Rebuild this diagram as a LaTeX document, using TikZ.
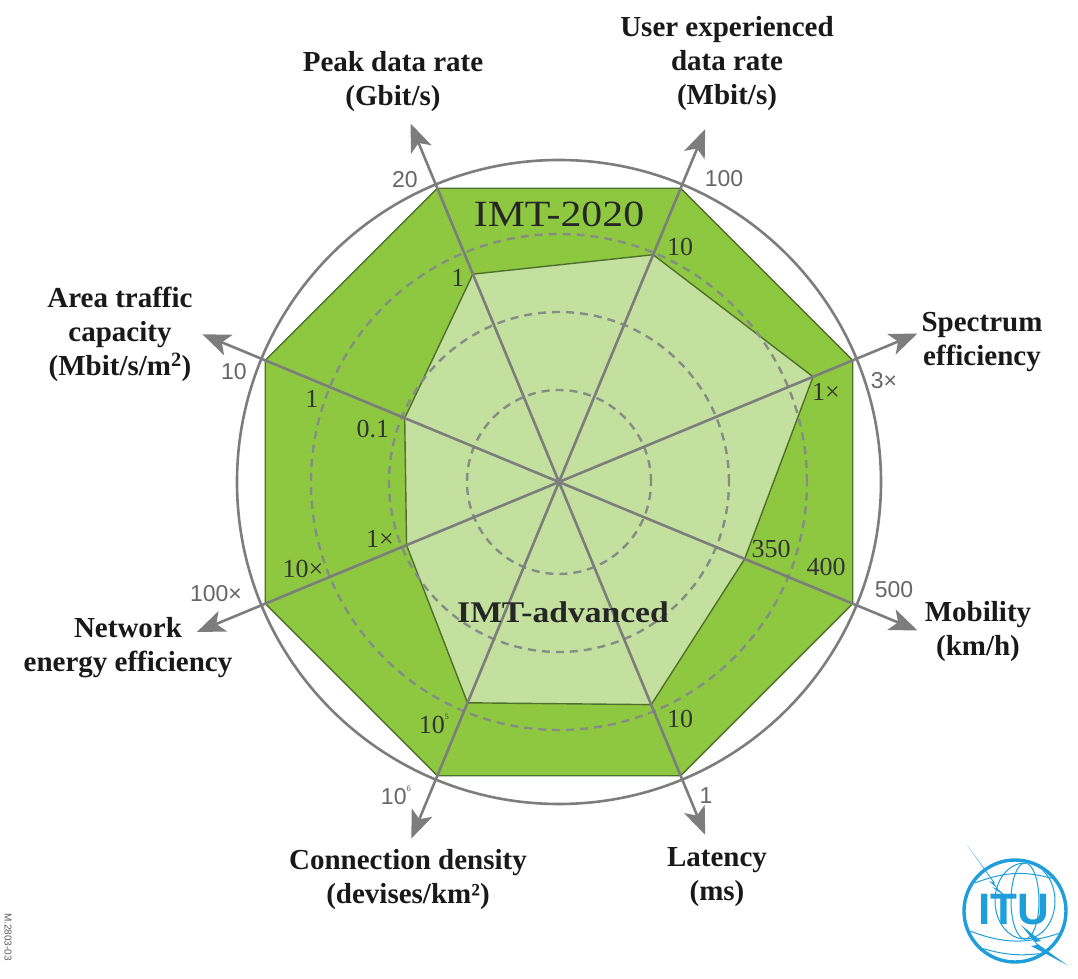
\documentclass[tikz,border=0pt]{standalone}
\usepackage{fontspec}
\setmainfont{Liberation Serif}
\newfontfamily\sansf{Liberation Sans}
\usetikzlibrary{arrows.meta}
\definecolor{outergreen}{RGB}{142,200,64}
\definecolor{innergreen}{RGB}{196,224,158}
\definecolor{edgegreen}{RGB}{78,112,44}
\definecolor{axisgray}{RGB}{125,125,125}
\definecolor{dashgray}{RGB}{135,140,135}
\definecolor{itublue}{RGB}{30,158,218}
\newcommand{\tinysup}[1]{\raisebox{0.55em}{\fontsize{8}{8}\selectfont #1}}
\begin{document}
\begin{tikzpicture}[x=1pt,y=1pt,
  axis/.style={draw=axisgray, line width=2.6pt, -{Stealth[length=28pt,width=22pt,inset=7pt]}},
  ringdash/.style={draw=dashgray, line width=2.4pt, dash pattern=on 8pt off 6pt},
  lbl/.style={font=\fontsize{29}{34}\selectfont\bfseries, align=center, text=black!90, inner sep=0pt},
  outtick/.style={font=\sansf\fontsize{23}{23}\selectfont, text=black!60, inner sep=0pt},
  intick/.style={font=\fontsize{26}{26}\selectfont, text=black!80, inner sep=0pt},
  imt/.style={inner sep=0pt, text=black!85},
]
\useasboundingbox (-559,-497) rectangle (519,482);
\fill[white] (-559,-497) rectangle (519,482);
\coordinate (O) at (0,0);
% outer circle
\draw[axisgray, line width=2.6pt] (O) circle (322);
% IMT-2020 octagon
\filldraw[fill=outergreen, draw=edgegreen, line width=1.4pt]
  (22.5:318) -- (67.5:318) -- (112.5:318) -- (157.5:318) -- (202.5:318) -- (247.5:318) -- (292.5:318) -- (337.5:318) -- cycle;
% IMT-advanced polygon
\filldraw[fill=innergreen, draw=edgegreen, line width=1.4pt]
  (112.5:225) -- (67.5:246) -- (22.5:275) -- (-22.5:201) -- (-67.5:241) -- (-112.5:239) -- (-157.5:165) -- (157.5:167) -- cycle;
% dashed rings
\foreach \r in {92,170,248} \draw[ringdash] (O) circle (\r);
% axis tips
\coordinate (T1) at (112.5:388);
\coordinate (T2) at (67.5:382);
\coordinate (T3) at (22.5:388);
\coordinate (T4) at (-22.5:388);
\coordinate (T5) at (-67.5:382);
\coordinate (T6) at (-112.5:386);
\coordinate (T7) at (-157.5:392);
\coordinate (T8) at (157.5:386);
\foreach \t in {T1,T2,T3,T4,T5,T6,T7,T8} \draw[axis] (O) -- (\t);
% series names
\node[imt, font=\fontsize{37}{37}\selectfont, xscale=1.13] (n2020) at (0,268) {IMT-2020};
\node[imt, font=\fontsize{30}{30}\selectfont\bfseries, xscale=1.12] (nadv) at (4,-130) {IMT-advanced};
% axis labels
\node[lbl] (lpeak) at (-166,400) {Peak data rate\\(Gbit/s)};
\node[lbl] (luser) at (168,418) {User experienced\\data rate\\(Mbit/s)};
\node[lbl] (lspec) at (423,140) {Spectrum\\efficiency};
\node[lbl] (lmob) at (419,-150) {Mobility\\(km/h)};
\node[lbl] (llat) at (158,-395) {Latency\\(ms)};
\node[lbl] (lcon) at (-151,-398) {Connection density\\(devises/km²)};
\node[lbl] (lnet) at (-431,-166) {Network\\energy efficiency};
\node[lbl] (larea) at (-439,148) {Area traffic\\capacity\\(Mbit/s/m\textsuperscript{2})};
% outer tick labels
\node[outtick] (o1) at (-154,302) {20};
\node[outtick] (o2) at (165,303) {100};
\node[outtick] (o3) at (325,101) {3×};
\node[outtick] (o4) at (335,-108) {500};
\node[outtick] (o5) at (147,-314) {1};
\node[outtick] (o6) at (-163,-313) {10\tinysup{6}};
\node[outtick] (o7) at (-343,-112) {100×};
\node[outtick] (o8) at (-325,110) {10};
% inner tick labels
\node[intick] (i1) at (-101,204) {1};
\node[intick] (i2) at (121,235) {10};
\node[intick] (i3) at (267,90) {1×};
\node[intick] (i4) at (212,-67) {350};
\node[intick] (i5) at (267,-85) {400};
\node[intick] (i6) at (121,-237) {10};
\node[intick] (i7) at (-125,-242) {10\tinysup{5}};
\node[intick] (i8) at (-256,-87) {10×};
\node[intick] (i9) at (-179,-57) {1×};
\node[intick] (i10) at (-247,83) {1};
\node[intick] (i11) at (-186,53) {0.1};
% figure reference
\node[rotate=-90, font=\sansf\fontsize{10}{10}\selectfont, text=black!65, inner sep=0pt] (fref) at (-551,-455) {M.2803-03};
% ITU logo
\begin{scope}[shift={(456,-429)}]
  \draw[itublue, line width=3.4pt] (0,0) circle (51);
  \begin{scope}
    \clip (0,0) circle (49);
    \draw[itublue, line width=1pt] (10,10) ellipse (14 and 38);
    \draw[itublue, line width=1pt] (10,10) ellipse (30 and 38);
    \draw[itublue, line width=1pt] (-40,28) to[bend left=20] (45,30);
    \draw[itublue, line width=1pt] (-45,-20) to[bend right=20] (45,-22);
    \draw[itublue, line width=1pt] (-40,-35) to[bend right=15] (40,-40);
  \end{scope}
  \fill[itublue] (-48,66) -- (-20,28) -- (-26,30) -- (-6,12) -- (-23,24) -- (-17,22) -- cycle;
  \fill[itublue] (6,-14) -- (26,-30) -- (20,-31) -- (52,-54) -- (16,-35) -- (22,-34) -- cycle;
  \node[font=\sansf\bfseries\fontsize{44}{44}\selectfont, text=itublue, inner sep=0pt] (itu) at (-1,1) {ITU};
\end{scope}
\end{tikzpicture}
\end{document}
